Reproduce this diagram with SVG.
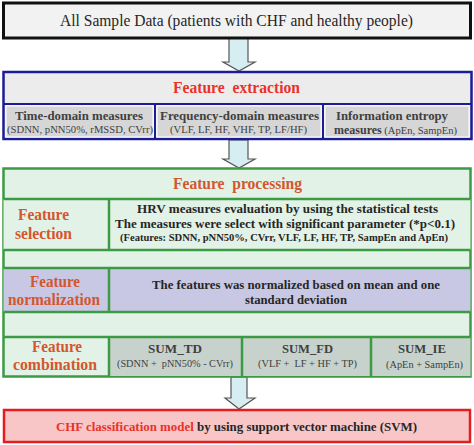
<svg xmlns="http://www.w3.org/2000/svg" width="474" height="445" viewBox="0 0 474 445">
<defs>
<style>
.serif{font-family:"Liberation Serif","Times New Roman",Times,serif}
.b{font-weight:bold}
.ttl{font-size:17px;font-weight:bold}
.lbl{font-size:16px;font-weight:bold}
.red{fill:#e8322a}
.org{fill:#d2562e}
.dk{fill:#262626}
.gr{fill:#404040}
.gline{stroke:#3c9a44;stroke-width:2.5;fill:none}
.blk{fill:#d6eef2;stroke:#555;stroke-width:1.2}
</style>
<marker id="ah" viewBox="0 0 10 10" refX="9" refY="5" markerWidth="7" markerHeight="7" orient="auto" markerUnits="userSpaceOnUse">
<path d="M0,0 L10,5 L0,10 z" fill="#111"/>
</marker>
</defs>
<rect width="474" height="445" fill="#fff"/>

<g id="connectors">
<path class="blk" d="M229,38 L248,38 L248,62 L255,62 L239,71 L223,62 L229,62 z"/>
<path class="blk" d="M229,140 L248,140 L248,159 L255,159 L239,168 L223,159 L229,159 z"/>
<path class="blk" d="M231,377 L247,377 L247,398 L255,398 L239,409 L225,398 L231,398 z"/>
<line x1="242" y1="250" x2="242" y2="267" stroke="#111" stroke-width="1.3" marker-end="url(#ah)"/>
<line x1="242" y1="312" x2="242" y2="337" stroke="#111" stroke-width="1.3" marker-end="url(#ah)"/>
</g>

<g id="all-sample-data">
<rect x="3.5" y="3" width="467" height="35" fill="#f2f2f2" stroke="#111" stroke-width="3"/>
<text x="236.5" y="26" text-anchor="middle" class="serif dk" font-size="16" textLength="353" lengthAdjust="spacingAndGlyphs">All Sample Data (patients with CHF and healthy people)</text>
</g>

<g id="feature-extraction">
<rect x="3.5" y="72" width="468" height="67" fill="#ececec" stroke="#1c1c96" stroke-width="2.5"/>
<line x1="3.5" y1="104" x2="471.5" y2="104" stroke="#1c1c96" stroke-width="2"/>
<rect x="6" y="106" width="147" height="31" fill="#d6d6d6" stroke="#fff" stroke-width="1"/>
<rect x="157" y="106" width="164" height="31" fill="#d6d6d6" stroke="#fff" stroke-width="1"/>
<rect x="325" y="106" width="144" height="31" fill="#d6d6d6" stroke="#fff" stroke-width="1"/>
<line x1="155" y1="104" x2="155" y2="139" stroke="#1c1c96" stroke-width="2"/>
<line x1="323" y1="104" x2="323" y2="139" stroke="#1c1c96" stroke-width="2"/>
<text x="236.5" y="93" text-anchor="middle" class="serif ttl red" xml:space="preserve" textLength="127" lengthAdjust="spacingAndGlyphs">Feature  extraction</text>
<text x="79" y="120" text-anchor="middle" class="serif b gr" font-size="12.5" textLength="128" lengthAdjust="spacingAndGlyphs">Time-domain measures</text>
<text x="80" y="133" text-anchor="middle" class="serif gr" font-size="11" textLength="146" lengthAdjust="spacingAndGlyphs">(SDNN, pNN50%, rMSSD, CVrr)</text>
<text x="239.5" y="120" text-anchor="middle" class="serif b gr" font-size="12.5" textLength="159" lengthAdjust="spacingAndGlyphs">Frequency-domain measures</text>
<text x="238.5" y="133" text-anchor="middle" class="serif gr" font-size="11" textLength="137" lengthAdjust="spacingAndGlyphs">(VLF, LF, HF, VHF, TP, LF/HF)</text>
<text x="392" y="120" text-anchor="middle" class="serif b gr" font-size="12.5" textLength="112" lengthAdjust="spacingAndGlyphs">Information entropy</text>
<text x="395.5" y="134" text-anchor="middle" class="serif gr" font-size="11" textLength="123" lengthAdjust="spacingAndGlyphs"><tspan class="b" font-size="12.5">measures</tspan> (ApEn, SampEn)</text>
</g>

<g id="feature-processing">
<rect x="3.5" y="168.5" width="467" height="208" fill="#e2f2e6" stroke="#3c9a44" stroke-width="2.5"/>
<text x="237.5" y="189" text-anchor="middle" class="serif ttl org" xml:space="preserve" textLength="129" lengthAdjust="spacingAndGlyphs">Feature  processing</text>
</g>

<g id="feature-selection">
<rect x="3.5" y="199" width="467" height="51" fill="#e2f2e6"/>
<line class="gline" x1="3.5" y1="199" x2="470.5" y2="199"/>
<line class="gline" x1="3.5" y1="250" x2="470.5" y2="250"/>
<line class="gline" x1="109" y1="199" x2="109" y2="250"/>
<text x="43.5" y="220" text-anchor="middle" class="serif ttl org" textLength="51" lengthAdjust="spacingAndGlyphs">Feature</text>
<text x="43.5" y="239" text-anchor="middle" class="serif ttl org" textLength="57" lengthAdjust="spacingAndGlyphs">selection</text>
<text x="287.5" y="213" text-anchor="middle" class="serif b dk" font-size="13" textLength="301" lengthAdjust="spacingAndGlyphs">HRV measures evaluation by using the statistical tests</text>
<text x="285" y="228" text-anchor="middle" class="serif b dk" font-size="13" textLength="340" lengthAdjust="spacingAndGlyphs">The measures were select with significant parameter (*p&lt;0.1)</text>
<text x="284" y="241" text-anchor="middle" class="serif b dk" font-size="10" textLength="328" lengthAdjust="spacingAndGlyphs">(Features: SDNN, pNN50%, CVrr, VLF, LF, HF, TP, SampEn and ApEn)</text>
</g>

<g id="feature-normalization">
<rect x="3.5" y="268" width="467" height="44" fill="#c8c8e4"/>
<line class="gline" x1="3.5" y1="268" x2="470.5" y2="268"/>
<line class="gline" x1="3.5" y1="312" x2="470.5" y2="312"/>
<line class="gline" x1="109" y1="268" x2="109" y2="312"/>
<text x="55" y="287" text-anchor="middle" class="serif lbl org" textLength="50" lengthAdjust="spacingAndGlyphs">Feature</text>
<text x="54" y="305" text-anchor="middle" class="serif lbl org" textLength="92" lengthAdjust="spacingAndGlyphs">normalization</text>
<text x="296" y="289" text-anchor="middle" class="serif b dk" font-size="13" textLength="288" lengthAdjust="spacingAndGlyphs">The features was normalized based on mean and one</text>
<text x="296" y="304" text-anchor="middle" class="serif b dk" font-size="13" textLength="102" lengthAdjust="spacingAndGlyphs">standard deviation</text>
</g>

<g id="feature-combination">
<rect x="109" y="337" width="361.5" height="39" fill="#c8d2cc"/>
<line class="gline" x1="3.5" y1="337" x2="470.5" y2="337"/>
<line class="gline" x1="109" y1="337" x2="109" y2="376"/>
<line class="gline" x1="242" y1="337" x2="242" y2="376"/>
<line class="gline" x1="371" y1="337" x2="371" y2="376"/>
<text x="57" y="352" text-anchor="middle" class="serif lbl org" textLength="50" lengthAdjust="spacingAndGlyphs">Feature</text>
<text x="55" y="370" text-anchor="middle" class="serif lbl org" textLength="84" lengthAdjust="spacingAndGlyphs">combination</text>
<text x="175" y="353" text-anchor="middle" class="serif b gr" font-size="13" textLength="54" lengthAdjust="spacingAndGlyphs">SUM_TD</text>
<text x="175" y="367" text-anchor="middle" class="serif gr" font-size="11" xml:space="preserve" textLength="116" lengthAdjust="spacingAndGlyphs">(SDNN +  pNN50% - CVrr)</text>
<text x="307.5" y="353" text-anchor="middle" class="serif b gr" font-size="13" textLength="51" lengthAdjust="spacingAndGlyphs">SUM_FD</text>
<text x="307.5" y="367" text-anchor="middle" class="serif gr" font-size="11" xml:space="preserve" textLength="99" lengthAdjust="spacingAndGlyphs">(VLF +  LF + HF + TP)</text>
<text x="422" y="353" text-anchor="middle" class="serif b gr" font-size="13" textLength="48" lengthAdjust="spacingAndGlyphs">SUM_IE</text>
<text x="424.5" y="368" text-anchor="middle" class="serif gr" font-size="11" textLength="77" lengthAdjust="spacingAndGlyphs">(ApEn + SampEn)</text>
</g>

<g id="svm-model">
<rect x="4" y="410" width="466" height="32" fill="#f8c6c6" stroke="#e41e1e" stroke-width="2.5"/>
<text x="236.5" y="431" text-anchor="middle" class="serif b dk" font-size="13.5" textLength="361" lengthAdjust="spacingAndGlyphs"><tspan class="red">CHF classification model</tspan> by using support vector machine (SVM)</text>
</g>
</svg>
